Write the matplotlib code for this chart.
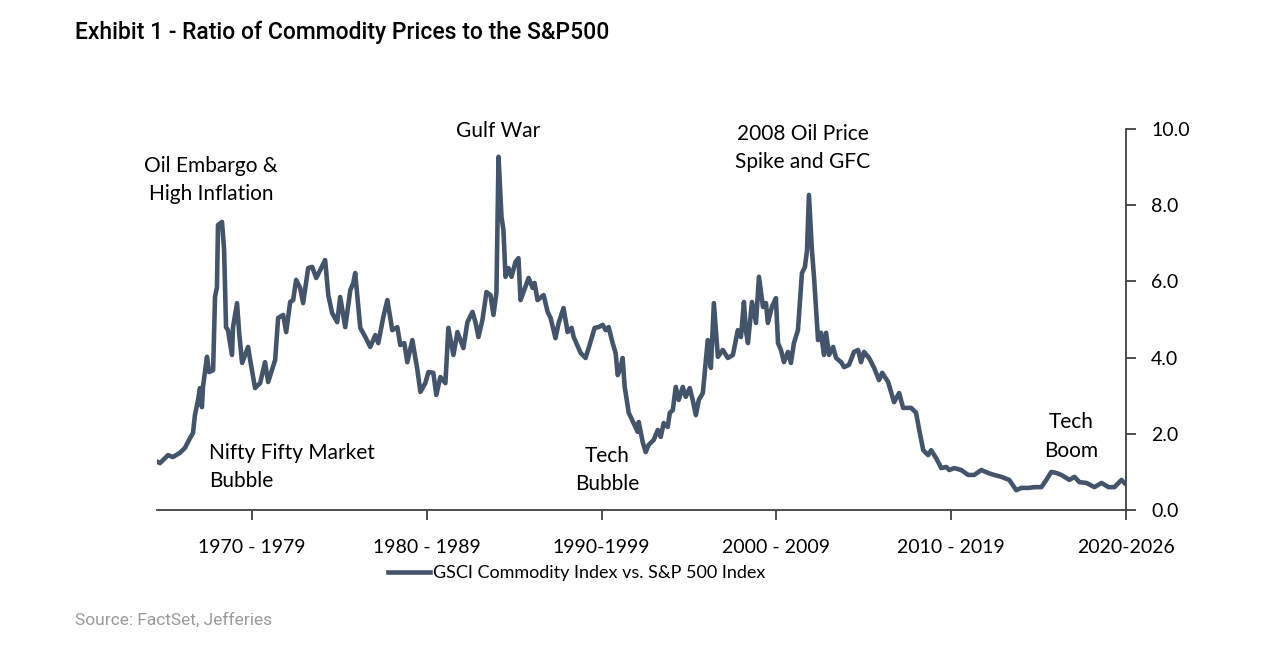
import matplotlib
matplotlib.use("Agg")
import matplotlib.pyplot as plt

# ratio of GSCI commodity index to S&P 500
years = [1970.56, 1970.73, 1971.19, 1971.47, 1971.87, 1972.16, 1972.45, 1972.62, 1972.73, 1972.91,
         1973.02, 1973.13, 1973.19, 1973.42, 1973.54, 1973.77, 1973.88, 1973.99, 1974.05, 1974.28,
         1974.40, 1974.51, 1974.62, 1974.85, 1974.91, 1975.14, 1975.26, 1975.43, 1975.60, 1975.77,
         1975.89, 1976.17, 1976.46, 1976.74, 1976.92, 1977.32, 1977.49, 1977.78, 1977.95, 1978.18,
         1978.35, 1978.52, 1978.75, 1978.92, 1979.21, 1979.44, 1979.67, 1979.90, 1980.18, 1980.36,
         1980.58, 1980.87, 1981.04, 1981.33, 1981.62, 1981.79, 1981.90, 1982.19, 1982.48, 1982.76,
         1983.05, 1983.22, 1983.51, 1983.74, 1984.02, 1984.31, 1984.48, 1984.71, 1984.88, 1985.17,
         1985.46, 1985.63, 1985.91, 1986.09, 1986.37, 1986.54, 1986.77, 1987.06, 1987.23, 1987.52,
         1987.75, 1988.09, 1988.32, 1988.61, 1988.78, 1988.95, 1989.18, 1989.41, 1989.64, 1989.81,
         1989.98, 1990.10, 1990.27, 1990.38, 1990.50, 1990.67, 1990.84, 1991.07, 1991.24, 1991.36,
         1991.53, 1991.82, 1992.05, 1992.16, 1992.33, 1992.68, 1992.91, 1993.08, 1993.36, 1993.54,
         1993.82, 1994.05, 1994.28, 1994.40, 1994.80, 1995.08, 1995.31, 1995.60, 1995.83, 1996.06,
         1996.23, 1996.40, 1996.63, 1996.80, 1996.92, 1997.09, 1997.20, 1997.32, 1997.55, 1997.83,
         1998.06, 1998.12, 1998.35, 1998.52, 1998.69, 1998.98, 1999.21, 1999.38, 1999.55, 1999.78,
         1999.90, 2000.07, 2000.24, 2000.41, 2000.64, 2000.81, 2001.04, 2001.21, 2001.39, 2001.56,
         2001.79, 2002.07, 2002.25, 2002.42, 2002.65, 2002.93, 2003.22, 2003.51, 2003.79, 2003.97,
         2004.14, 2004.25, 2004.37, 2004.60, 2004.83, 2005.00, 2005.23, 2005.40, 2005.51, 2005.74,
         2005.97, 2006.09, 2006.26, 2006.43, 2006.66, 2006.83, 2007.00, 2007.23, 2007.46, 2007.63,
         2007.75, 2007.86, 2008.03, 2008.15, 2008.38, 2008.55, 2008.72, 2008.84, 2009.01, 2009.24,
         2009.41, 2009.70, 2009.87, 2010.15, 2010.44, 2010.67, 2010.84, 2011.01, 2011.30, 2011.59,
         2011.87, 2012.05, 2012.39, 2012.73, 2013.02, 2013.25, 2013.71, 2013.99, 2014.17, 2014.40,
         2014.68, 2014.85, 2015.14, 2015.43, 2015.71, 2015.89, 2016.17, 2016.57, 2016.97, 2017.32,
         2017.72, 2018.12, 2018.46, 2018.87, 2019.32, 2019.72, 2020.01, 2020.41, 2020.76, 2021.16,
         2021.44, 2021.73, 2022.02, 2022.30, 2022.76, 2023.05, 2023.34, 2023.74, 2024.19, 2024.60,
         2025.00, 2025.34, 2025.74, 2025.91]
ratio = [1.27, 1.23, 1.44, 1.39, 1.50, 1.63, 1.89, 2.02, 2.49, 2.89,
         3.20, 2.70, 3.23, 4.02, 3.62, 3.67, 5.59, 5.85, 7.48, 7.56,
         6.82, 4.80, 4.72, 4.07, 4.80, 5.43, 4.65, 3.86, 4.07, 4.28,
         3.94, 3.20, 3.33, 3.88, 3.36, 3.94, 5.04, 5.12, 4.67, 5.46,
         5.51, 6.04, 5.83, 5.43, 6.35, 6.38, 6.09, 6.30, 6.56, 5.64,
         5.17, 4.93, 5.59, 4.80, 5.77, 5.96, 6.22, 4.78, 4.54, 4.28,
         4.59, 4.38, 5.07, 5.51, 4.72, 4.80, 4.33, 4.38, 3.88, 4.46,
         3.67, 3.10, 3.33, 3.62, 3.60, 3.02, 3.49, 3.33, 4.78, 4.07,
         4.67, 4.25, 4.93, 5.20, 4.93, 4.54, 4.99, 5.72, 5.64, 5.12,
         5.70, 9.27, 7.69, 7.35, 6.12, 6.35, 6.12, 6.51, 6.61, 5.51,
         5.72, 6.09, 5.83, 5.96, 5.51, 5.64, 5.20, 5.04, 4.51, 4.91,
         5.30, 4.67, 4.78, 4.54, 4.12, 3.99, 4.33, 4.78, 4.80, 4.86,
         4.72, 4.80, 4.38, 4.12, 3.54, 3.75, 3.99, 3.23, 2.55, 2.28,
         2.05, 2.31, 1.78, 1.52, 1.71, 1.84, 2.10, 1.92, 2.28, 2.18,
         2.55, 2.62, 3.23, 2.89, 3.23, 2.97, 3.20, 2.89, 2.49, 2.89,
         3.07, 4.46, 3.73, 5.43, 4.02, 4.20, 3.99, 4.07, 4.72, 4.54,
         5.46, 4.72, 4.38, 5.46, 4.91, 6.12, 5.33, 5.43, 4.91, 5.33,
         5.56, 4.38, 4.20, 3.88, 4.15, 3.86, 4.38, 4.72, 6.22, 6.38,
         6.82, 8.27, 6.82, 6.12, 4.46, 4.65, 4.07, 4.65, 4.07, 4.28,
         3.99, 3.88, 3.75, 3.81, 4.15, 4.20, 3.88, 4.15, 3.99, 3.73,
         3.41, 3.60, 3.36, 2.83, 3.07, 2.68, 2.68, 2.55, 2.10, 1.57,
         1.44, 1.57, 1.36, 1.10, 1.13, 1.05, 1.10, 1.05, 0.92, 0.92,
         1.05, 0.97, 0.92, 0.87, 0.79, 0.52, 0.58, 0.58, 0.60, 0.60,
         0.79, 1.00, 0.97, 0.92, 0.79, 0.87, 0.73, 0.71, 0.60, 0.71,
         0.60, 0.60, 0.79, 0.71]

tick_pos = [1976, 1986, 1996, 2006, 2016, 2026]
tick_labels = ["1970 - 1979", "1980 - 1989", "1990-1999", "2000 - 2009", "2010 - 2019", "2020-2026"]
y_ticks = [0, 2, 4, 6, 8, 10]

# (text, x, y, alignment)
notes = [
    ("Oil Embargo &\nHigh Inflation", 1973.65, 8.66, "center"),
    ("Gulf War", 1990.1, 9.95, "center"),
    ("2008 Oil Price\nSpike and GFC", 2007.5, 9.5, "center"),
    ("Nifty Fifty Market\nBubble", 1973.54, 1.13, "left"),
    ("Tech\nBubble", 1996.34, 1.05, "center"),
    ("Tech\nBoom", 2022.88, 1.92, "center"),
]

line_color = "#44546A"
axis_color = "#404040"

plt.rcParams['font.family'] = ['Lato', 'DejaVu Sans']

fig = plt.figure(figsize=(12.8, 6.49), dpi=100)
ax = fig.add_axes([157 / 1280, 1 - 510 / 649, (1126 - 157) / 1280, (510 - 129) / 649])

line, = ax.plot(years, ratio, color=line_color, linewidth=3.3, solid_joinstyle='round',
                label="GSCI Commodity Index vs. S&P 500 Index")

ax.set_xlim(years[0], 2026)
ax.set_ylim(0, 10)

for side in ['top', 'left']:
    ax.spines[side].set_visible(False)
for side in ['bottom', 'right']:
    ax.spines[side].set_color(axis_color)
    ax.spines[side].set_linewidth(1.3)

ax.yaxis.tick_right()
ax.set_yticks(y_ticks)
ax.set_yticklabels([f"{v:.1f}" for v in y_ticks])
ax.set_xticks(tick_pos)
ax.set_xticklabels(tick_labels)
ax.tick_params(axis='both', direction='out', length=7, width=1.3, color=axis_color,
               labelsize=14, labelcolor='black')
ax.tick_params(axis='x', pad=14)
ax.tick_params(axis='y', pad=11)

for text, x, y, ha in notes:
    ax.text(x, y, text, ha=ha, va='center', fontsize=15, color='black', linespacing=1.55)

fig.legend(handles=[line], loc='center', bbox_to_anchor=(577 / 1280, 1 - 573 / 649),
           frameon=False, fontsize=13, handlelength=2.3, handletextpad=0.2)

fig.text(75 / 1280, 1 - 32 / 649, "Exhibit 1 - Ratio of Commodity Prices to the S&P500",
         fontsize=16.5, fontweight='medium', family=['Roboto', 'DejaVu Sans'],
         ha='left', va='center', color='black')
fig.text(75 / 1280, 1 - 620 / 649, "Source: FactSet, Jefferies", fontsize=12.5,
         family=['Roboto', 'DejaVu Sans'], color='#9a9a9a', ha='left', va='center')

fig.savefig("out.png", dpi=100)
